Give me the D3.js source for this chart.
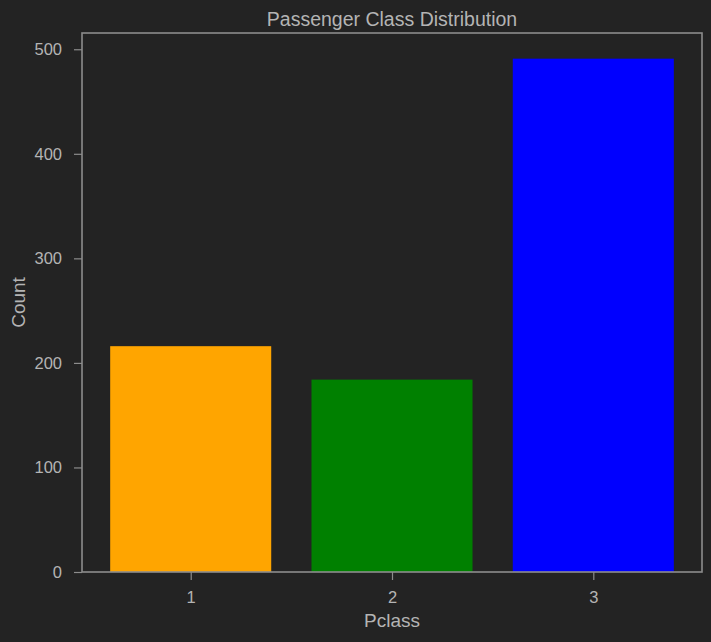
<!DOCTYPE html>
<html>
<head>
<meta charset="utf-8">
<script src="https://cdn.jsdelivr.net/npm/d3@7"></script>
<style>
  html, body { margin: 0; padding: 0; background: #232323; }
  #chart { width: 711px; height: 642px; }
  text { font-family: "Liberation Sans", Arial, sans-serif; fill: #b4b4b4; }
</style>
</head>
<body>
<div id="chart"></div>
<script>
const classes = [1, 2, 3];
const counts = [216, 184, 491];
const barColors = ["#ffa500", "#008000", "#0000ff"];
const yTicks = [0, 100, 200, 300, 400, 500];

function renderBarChart() {
  const container = d3.select("#chart");
  const width = 711, height = 642;
  const margin = { top: 33, right: 9, bottom: 70, left: 82 };
  const innerW = width - margin.left - margin.right;
  const innerH = height - margin.top - margin.bottom;

  const svg = container.append("svg").attr("width", width).attr("height", height);
  svg.append("rect").attr("width", width).attr("height", height).attr("fill", "#232323");

  const g = svg.append("g").attr("transform", `translate(${margin.left},${margin.top})`);

  const data = classes.map((c, i) => ({ cls: c, count: counts[i], color: barColors[i] }));

  // bars of width 0.8 with 5% margins, like matplotlib
  const x = d3.scaleLinear().domain([0.46, 3.54]).range([0, innerW]);
  const y = d3.scaleLinear().domain([0, d3.max(counts) * 1.05]).range([innerH, 0]);

  g.selectAll("rect.bar")
    .data(data)
    .enter()
    .append("rect")
    .attr("class", "bar")
    .attr("x", d => x(d.cls - 0.4))
    .attr("width", d => x(d.cls + 0.4) - x(d.cls - 0.4))
    .attr("y", d => y(d.count))
    .attr("height", d => innerH - y(d.count))
    .attr("fill", d => d.color);

  const xAxis = g.append("g")
    .attr("transform", `translate(0,${innerH})`)
    .call(d3.axisBottom(x).tickValues(classes).tickFormat(d3.format("d")).tickSize(8).tickPadding(11));

  const yAxis = g.append("g")
    .call(d3.axisLeft(y).tickValues(yTicks).tickSize(8).tickPadding(12));

  [xAxis, yAxis].forEach(a => {
    a.select(".domain").remove();
    a.selectAll("line").attr("stroke", "#8c8c8c").attr("stroke-width", 1.2);
    a.selectAll("text").attr("fill", "#b4b4b4").style("font-size", "16.5px")
      .style("font-family", "'Liberation Sans', Arial, sans-serif");
  });

  g.append("rect")
    .attr("width", innerW).attr("height", innerH)
    .attr("fill", "none").attr("stroke", "#8c8c8c").attr("stroke-width", 1.6);

  svg.append("text")
    .attr("x", margin.left + innerW / 2).attr("y", 26)
    .attr("text-anchor", "middle")
    .style("font-size", "19.5px")
    .text("Passenger Class Distribution");

  svg.append("text")
    .attr("x", margin.left + innerW / 2).attr("y", 627)
    .attr("text-anchor", "middle")
    .style("font-size", "19px")
    .text("Pclass");

  svg.append("text")
    .attr("transform", `translate(25,${margin.top + innerH / 2}) rotate(-90)`)
    .attr("text-anchor", "middle")
    .style("font-size", "19px")
    .text("Count");
}

renderBarChart();
</script>
</body>
</html>
